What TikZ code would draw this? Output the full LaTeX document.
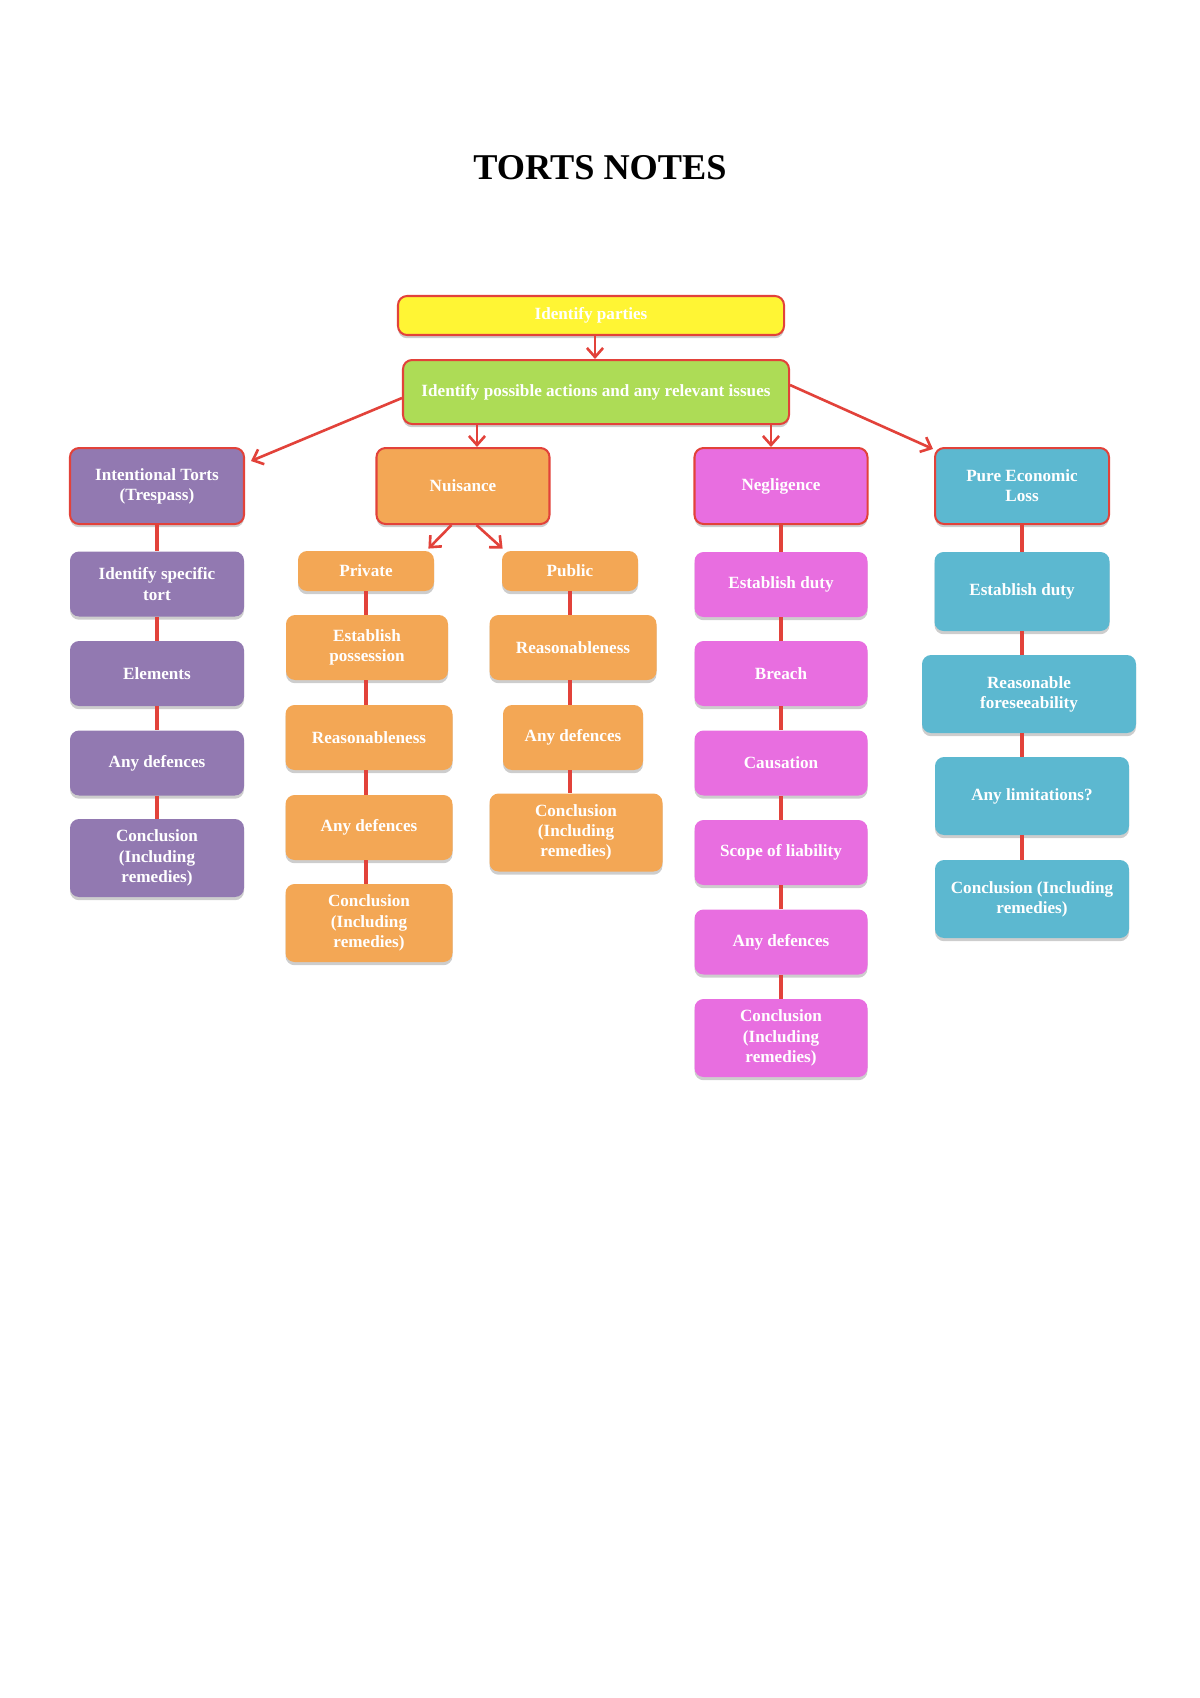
\documentclass[tikz,border=0pt]{standalone}
\usepackage{fontspec}
\setmainfont{Liberation Serif}
\usetikzlibrary{arrows.meta,shadows,calc}
\definecolor{cRed}{RGB}{226,66,58}
\definecolor{cYellow}{RGB}{255,245,52}
\definecolor{cGreen}{RGB}{173,220,86}
\definecolor{cPurple}{RGB}{146,121,177}
\definecolor{cOrange}{RGB}{243,167,85}
\definecolor{cMag}{RGB}{232,110,224}
\definecolor{cCyan}{RGB}{92,184,208}
\begin{document}
\begin{tikzpicture}[x=0.49607pt,y=-0.49607pt,
  base/.style={rounded corners=4.5pt, align=center, text=white,
    font=\bfseries\fontsize{8.5}{10}\selectfont, inner sep=1pt,
    drop shadow={shadow xshift=0pt,shadow yshift=-1.6pt,opacity=0.28,fill=black!70}},
  sz/.style 2 args={minimum width=#1*0.49607pt, minimum height=#2*0.49607pt},
  topbox/.style={base, draw=cRed, line width=1pt},
  subbox/.style={base},
  conn/.style={draw=cRed, line width=1.7pt},
  arr/.style={draw=cRed, line width=1.3pt, -{Straight Barb[length=4.5pt,width=8pt]}},
]
\useasboundingbox (0,0) rectangle (1200,1698);

\node[font=\bfseries\fontsize{18}{20}\selectfont, anchor=base] (title) at (600,179) {TORTS NOTES};

% top level
\node[topbox, fill=cYellow, sz={386}{39}] (parties) at (591,315.5) {Identify parties};
\node[topbox, fill=cGreen, sz={386}{64}] (issues) at (596,392) {Identify possible actions and any relevant issues};
\node[topbox, fill=cPurple, sz={174}{76}] (intent) at (157,486) {Intentional Torts\\(Trespass)};
\node[topbox, fill=cOrange, sz={173}{76}] (nuis) at (463,486) {Nuisance};
\node[topbox, fill=cMag, sz={173}{76}] (neg) at (781,486) {Negligence};
\node[topbox, fill=cCyan, sz={174}{76}] (pel) at (1022,486) {Pure Economic\\Loss};

% purple column
\node[subbox, fill=cPurple, sz={174}{65}] (p1) at (157,584) {Identify specific\\tort};
\node[subbox, fill=cPurple, sz={174}{65}] (p2) at (157,673.5) {Elements};
\node[subbox, fill=cPurple, sz={174}{65}] (p3) at (157,763) {Any defences};
\node[subbox, fill=cPurple, sz={174}{78}] (p4) at (157,858) {Conclusion\\(Including\\remedies)};

% orange private column
\node[subbox, fill=cOrange, sz={136}{40}] (o0) at (366,571) {Private};
\node[subbox, fill=cOrange, sz={162}{65}] (o1) at (367,647.5) {Establish\\possession};
\node[subbox, fill=cOrange, sz={167}{65}] (o2) at (369,737.5) {Reasonableness};
\node[subbox, fill=cOrange, sz={167}{65}] (o3) at (369,827.5) {Any defences};
\node[subbox, fill=cOrange, sz={167}{78}] (o4) at (369,923) {Conclusion\\(Including\\remedies)};

% orange public column
\node[subbox, fill=cOrange, sz={136}{40}] (u0) at (570,571) {Public};
\node[subbox, fill=cOrange, sz={167}{65}] (u1) at (573,647.5) {Reasonableness};
\node[subbox, fill=cOrange, sz={140}{65}] (u2) at (573,737.5) {Any defences};
\node[subbox, fill=cOrange, sz={173}{78}] (u3) at (576,832.5) {Conclusion\\(Including\\remedies)};

% magenta column
\node[subbox, fill=cMag, sz={173}{65}] (m1) at (781,584.5) {Establish duty};
\node[subbox, fill=cMag, sz={173}{65}] (m2) at (781,673.5) {Breach};
\node[subbox, fill=cMag, sz={173}{65}] (m3) at (781,763) {Causation};
\node[subbox, fill=cMag, sz={173}{65}] (m4) at (781,852.5) {Scope of liability};
\node[subbox, fill=cMag, sz={173}{65}] (m5) at (781,942) {Any defences};
\node[subbox, fill=cMag, sz={173}{78}] (m6) at (781,1038) {Conclusion\\(Including\\remedies)};

% cyan column
\node[subbox, fill=cCyan, sz={175}{79}] (c1) at (1022,591.5) {Establish duty};
\node[subbox, fill=cCyan, sz={214}{78}] (c2) at (1029,694) {Reasonable\\foreseeability};
\node[subbox, fill=cCyan, sz={194}{78}] (c3) at (1032,796) {Any limitations?};
\node[subbox, fill=cCyan, sz={194}{78}] (c4) at (1032,899) {Conclusion (Including\\remedies)};

% arrows
\coordinate (ya) at ($(parties.south)+(4,0)$);
\draw[arr] (ya) -- (ya |- issues.north);
\draw[arr] ($(issues.west)+(0,6)$) -- ($(intent.north east)+(6,14)$);
\draw[arr] ($(issues.east)+(0,-7)$) -- ($(pel.north west)+(-1,2)$);
\coordinate (na) at ($(nuis.north)+(14,0)$);
\draw[arr] (na |- issues.south) -- (na);
\coordinate (ga) at ($(neg.north)+(-10,0)$);
\draw[arr] (ga |- issues.south) -- (ga);
\draw[arr] ($(nuis.south)+(-11.5,0)$) -- ($(o0.north east)+(-6,-2)$);
\draw[arr] ($(nuis.south)+(13.5,0)$) -- ($(u0.north west)+(1,-2)$);

% connectors
\draw[conn] (intent.south) -- (p1.north);
\draw[conn] (p1.south) -- (p2.north);
\draw[conn] (p2.south) -- (p3.north);
\draw[conn] (p3.south) -- (p4.north);

\draw[conn] (o0.south) -- (o0.south |- o1.north);
\draw[conn] (o0.south |- o1.south) -- (o0.south |- o2.north);
\draw[conn] (o0.south |- o2.south) -- (o0.south |- o3.north);
\draw[conn] (o0.south |- o3.south) -- (o0.south |- o4.north);

\draw[conn] (u0.south) -- (u0.south |- u1.north);
\draw[conn] (u0.south |- u1.south) -- (u0.south |- u2.north);
\draw[conn] (u0.south |- u2.south) -- (u0.south |- u3.north);

\draw[conn] (neg.south) -- (m1.north);
\draw[conn] (m1.south) -- (m2.north);
\draw[conn] (m2.south) -- (m3.north);
\draw[conn] (m3.south) -- (m4.north);
\draw[conn] (m4.south) -- (m5.north);
\draw[conn] (m5.south) -- (m6.north);

\draw[conn] (pel.south) -- (c1.north);
\draw[conn] (c1.south) -- (pel.south |- c2.north);
\draw[conn] (pel.south |- c2.south) -- (pel.south |- c3.north);
\draw[conn] (pel.south |- c3.south) -- (pel.south |- c4.north);
\end{tikzpicture}
\end{document}
